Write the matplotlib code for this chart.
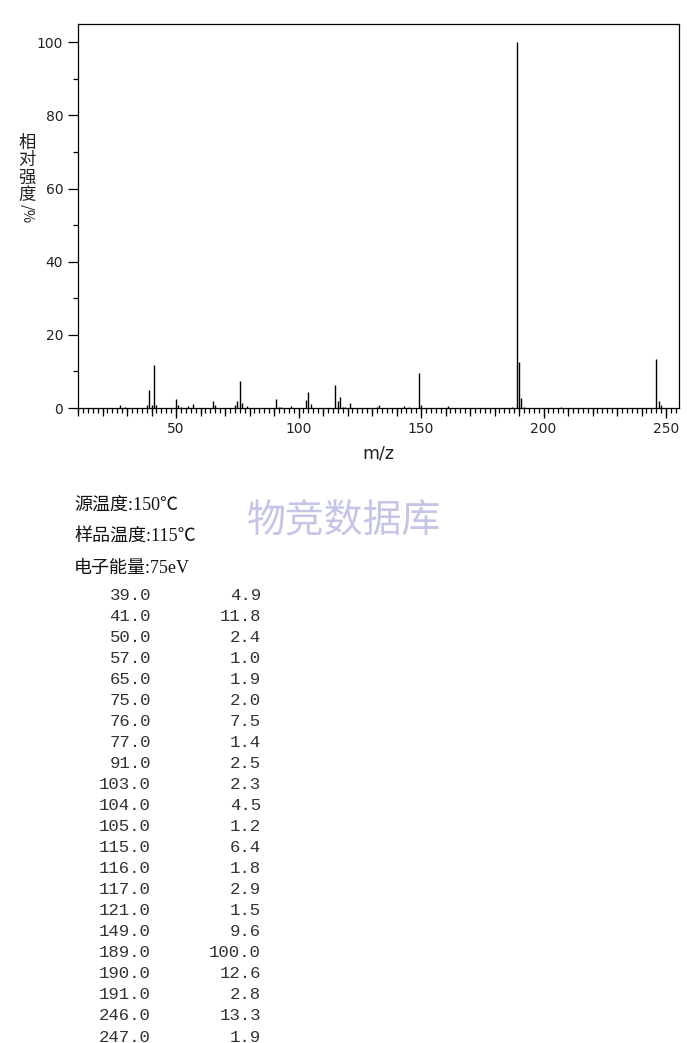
import matplotlib
matplotlib.use("Agg")
import matplotlib.pyplot as plt
from matplotlib.ticker import MultipleLocator, NullFormatter

# peaks listed in the table
table_mz = [39, 41, 50, 57, 65, 75, 76, 77, 91, 103, 104, 105, 115, 116, 117,
            121, 149, 189, 190, 191, 246, 247]
table_int = [4.9, 11.8, 2.4, 1.0, 1.9, 2.0, 7.5, 1.4, 2.5, 2.3, 4.5, 1.2, 6.4,
             1.8, 2.9, 1.5, 9.6, 100.0, 12.6, 2.8, 13.3, 1.9]

# small peaks visible in the spectrum but not listed
minor_mz = [27, 29, 38, 40, 42, 51, 52, 55, 66, 74, 79, 92, 93, 97, 118, 119,
            132, 133, 143, 145, 150, 161, 187, 192, 207, 248]
minor_int = [0.9, 0.3, 0.7, 0.8, 0.8, 0.8, 0.4, 0.6, 0.7, 0.8, 0.5, 0.4, 0.4,
             0.6, 0.4, 0.4, 0.3, 0.8, 0.5, 0.4, 0.8, 0.5, 0.4, 0.4, 0.4, 0.8]

info_lines = ["源温度:150℃", "样品温度:115℃", "电子能量:75eV"]

W, H = 687, 1043
fig = plt.figure(figsize=(W / 100, H / 100), dpi=100)
ax = fig.add_axes([78 / W, 1 - 408 / H, 601 / W, 384 / H])

ax.vlines(table_mz, 0, table_int, color="black", lw=1.0)
ax.vlines(minor_mz, 0, minor_int, color="black", lw=1.0)

ax.set_xlim(10, 255.3)
ax.set_ylim(0, 105)

for s in ax.spines.values():
    s.set_linewidth(0.9)

ax.xaxis.set_major_locator(MultipleLocator(50))
ax.xaxis.set_minor_locator(MultipleLocator(2))
ax.yaxis.set_major_locator(MultipleLocator(20))
ax.yaxis.set_minor_locator(MultipleLocator(10))
ax.tick_params(axis="x", which="major", length=7.2, width=0.9, pad=3, labelsize=10,
               labelcolor="#222222")
ax.tick_params(axis="x", which="minor", length=3.8, width=0.9)
ax.tick_params(axis="y", which="major", length=7.2, width=0.9, pad=3.5, labelsize=10,
               labelcolor="#222222")
ax.tick_params(axis="y", which="minor", length=3.6, width=0.9)

# medium ticks every 10
sec = ax.secondary_xaxis("bottom")
sec.xaxis.set_major_locator(MultipleLocator(10))
sec.xaxis.set_major_formatter(NullFormatter())
sec.tick_params(length=5.5, width=0.9)
sec.spines["bottom"].set_visible(False)

ax.set_xlabel("m/z", fontsize=12.5, labelpad=6, color="#222222")

cjk = ["Noto Sans CJK SC", "DejaVu Sans"]
fig.text(27 / W, 1 - 169 / H, "相\n对\n强\n度", family=cjk, fontsize=12.5,
         ha="center", va="center", linespacing=0.95, color="#222222")
fig.text(27 / W, 1 - 214 / H, "/%", family=cjk, fontsize=10.5, rotation=270,
         ha="center", va="center", color="#222222")

serif = ["Liberation Serif", "Noto Sans CJK SC"]
for i, line in enumerate(info_lines):
    fig.text(74 / W, 1 - (505 + 31.5 * i) / H, line, family=serif, fontsize=13,
             ha="left", va="center", color="#111111")

fig.text(344 / W, 1 - 521 / H, "物竞数据库", family=cjk, fontsize=28,
         color="#c5c5e8", ha="center", va="center")

for i, (mz, inten) in enumerate(zip(table_mz, table_int)):
    y = 1 - (595 + 21.05 * i) / H
    fig.text(151 / W, y, f"{mz:.1f}", family="Liberation Mono", fontsize=12.5,
             ha="right", va="center", color="#333333")
    fig.text(261 / W, y, f"{inten:.1f}", family="Liberation Mono", fontsize=12.5,
             ha="right", va="center", color="#333333")

fig.savefig("out.png", dpi=100)
